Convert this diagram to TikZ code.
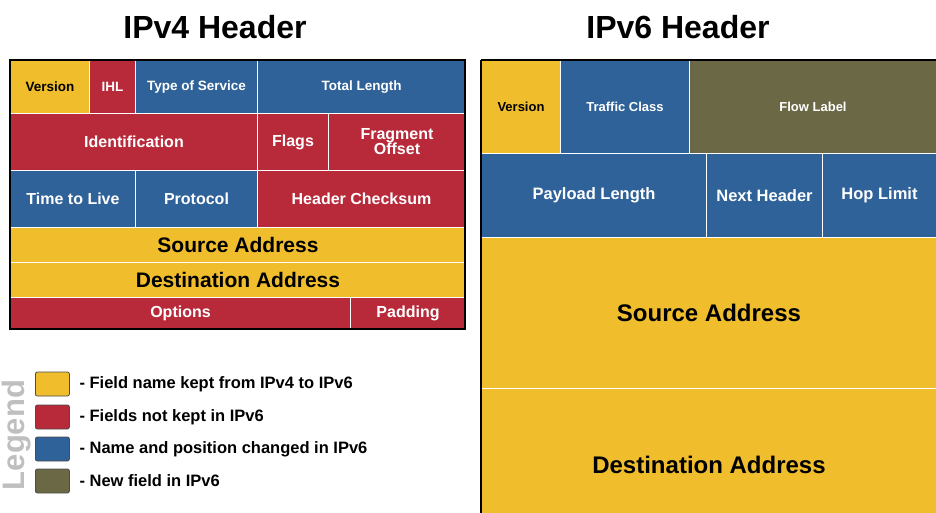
\documentclass[tikz,border=0pt]{standalone}
\usepackage{fontspec}
\setmainfont{Liberation Sans}
\definecolor{yel}{HTML}{F0BE2C}
\definecolor{red}{HTML}{B82A3A}
\definecolor{blu}{HTML}{2F6299}
\definecolor{oli}{HTML}{6B6845}
\tikzset{cell/.style={draw=white,line width=1pt,anchor=north west,inner sep=0pt,text=white,font=\bfseries,align=center},
ytxt/.style={text=black},
sw/.style={draw=black!70,line width=0.8pt,rounded corners=2pt,minimum width=34pt,minimum height=24pt,anchor=west,inner sep=0pt},
lt/.style={anchor=west,font=\bfseries\fontsize{16.5}{18}\selectfont}}
\begin{document}
\begin{tikzpicture}[x=1pt,y=-1pt]
\useasboundingbox (0,0) rectangle (936,512);
\clip (0,0) rectangle (936,512);
\node[font=\bfseries\fontsize{32}{32}\selectfont] (t4) at (215,27) {IPv4 Header};
\node[font=\bfseries\fontsize{32}{32}\selectfont] (t6) at (678,27) {IPv6 Header};
% IPv4
\def\C#1#2#3#4#5#6#7#8{\node[cell,fill=#5,minimum width=#3pt,minimum height=#4pt,font=\bfseries\fontsize{#6}{#6}\selectfont,#7] (#8) at (#1,#2)}
\C{10}{60}{79}{53}{yel}{13.5}{ytxt}{ver4} {Version};
\C{89}{60}{46}{53}{red}{13.5}{}{ihl} {IHL};
\C{135}{60}{122}{53}{blu}{13.5}{}{tos} {Type of Service};
\C{257}{60}{208}{53}{blu}{13.5}{}{tl} {Total Length};
\C{10}{113}{247}{57}{red}{16}{}{id} {Identification};
\C{257}{113}{71}{57}{red}{16}{}{fl} {Flags};
\C{328}{113}{137}{57}{red}{16}{}{fo} {Fragment\\[-1pt]Offset};
\C{10}{170}{125}{57}{blu}{16}{}{ttl} {Time to Live};
\C{135}{170}{122}{57}{blu}{16}{}{pr} {Protocol};
\C{257}{170}{208}{57}{red}{16}{}{hc} {Header Checksum};
\C{10}{227}{455}{35}{yel}{21}{ytxt}{sa4} {Source Address};
\C{10}{262}{455}{35}{yel}{21}{ytxt}{da4} {Destination Address};
\C{10}{297}{340}{32}{red}{16}{}{op} {Options};
\C{350}{297}{115}{32}{red}{16}{}{pd} {Padding};
\draw[line width=2pt] (10,60) rectangle (465,329);
% IPv6
\C{481}{60}{79}{93}{yel}{13}{ytxt}{ver6} {Version};
\C{560}{60}{129}{93}{blu}{13}{}{tc} {Traffic Class};
\C{689}{60}{247}{93}{oli}{13}{}{flw} {Flow Label};
\C{481}{153}{225}{84}{blu}{16.5}{}{pl} {Payload Length};
\C{706}{153}{116}{84}{blu}{16.5}{}{nh} {Next Header};
\C{822}{153}{114}{84}{blu}{16.5}{}{hl} {Hop Limit};
\C{481}{237}{455}{151}{yel}{24}{ytxt}{sa6} {Source Address};
\C{481}{388}{455}{152}{yel}{24}{ytxt}{da6} {Destination Address};
\draw[line width=2pt] (481,60) -- (937,60) (481,60) -- (481,513);
% legend
\node[rotate=90,text=black!25,font=\bfseries\fontsize{31}{31}\selectfont] (lg) at (17,435) {Legend};
\node[sw,fill=yel] (s1) at (35,384) {};
\node[sw,fill=red] (s2) at (35,417) {};
\node[sw,fill=blu] (s3) at (35,449) {};
\node[sw,fill=oli] (s4) at (35,481) {};
\node[lt] (l1) at (76,384) {- Field name kept from IPv4 to IPv6};
\node[lt] (l2) at (76,417) {- Fields not kept in IPv6};
\node[lt] (l3) at (76,449) {- Name and position changed in IPv6};
\node[lt] (l4) at (76,481) {- New field in IPv6};
\end{tikzpicture}
\end{document}
